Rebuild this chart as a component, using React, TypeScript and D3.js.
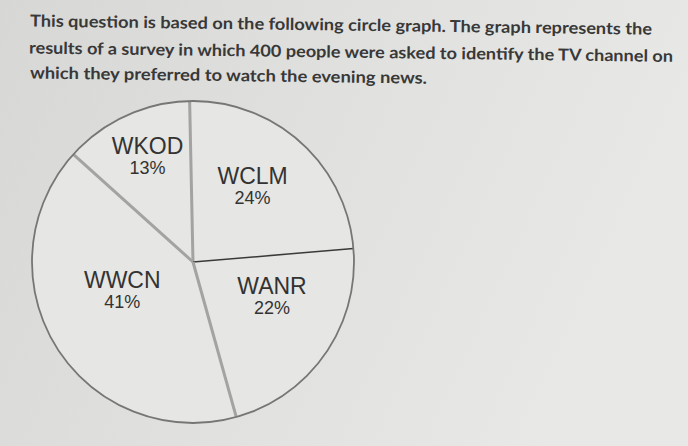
import React from 'react';
import * as d3 from "d3";

// question text, one entry per printed line
const questionLines = [
    "This question is based on the following circle graph. The graph represents the",
    "results of a survey in which 400 people were asked to identify the TV channel on",
    "which they preferred to watch the evening news.",
];

// slices, clockwise starting with the small one at the top left
const channels = ["WKOD", "WCLM", "WANR", "WWCN"];
const shares = [13, 24, 22, 41];

const width = 688;
const height = 446;
const cx = 193;
const cy = 262;
const radius = 161;
const startDeg = -48; // where WKOD begins, picture is hand drawn so this is a best fit

// nudges from the arc centroid to where the printed labels actually sit
const labelNudge: [number, number][] = [[-6, -20], [-4, -5], [1, -20], [10, -22]];
// boundaries before each slice (WWCN|WKOD, WKOD|WCLM, WCLM|WANR, WANR|WWCN)
const edgeStyle = [
    {stroke: "#a3a3a1", width: 3},
    {stroke: "#a3a3a1", width: 3},
    {stroke: "#3a3a3a", width: 1.5},
    {stroke: "#a3a3a1", width: 3},
];
// photo is slightly tilted; left x, left baseline and printed width for each line
const lineBox: [number, number, number][] = [[30, 26.5, 622], [29, 53.5, 644], [30, 78.5, 397]];
const tilt = 0.75;

const App = () => {
    const start = startDeg * Math.PI / 180;
    const pie = d3.pie<number>()
        .sort(null)
        .value(d => d)
        .startAngle(start)
        .endAngle(start + 2 * Math.PI);
    const arcs = pie(shares);

    const arc = d3.arc<d3.PieArcDatum<number>>()
        .innerRadius(0)
        .outerRadius(radius);
    const labelArc = d3.arc<d3.PieArcDatum<number>>()
        .innerRadius(95)
        .outerRadius(95);

    return (
        <div style={{position: "absolute", left: 0, top: 0}}>
            <svg width={width} height={height} style={{display: "block"}}>
                <defs>
                    <linearGradient id="paper" x1="0" y1="0" x2="1" y2="0.3">
                        <stop offset="0" stopColor="#d7d7d5"/>
                        <stop offset="0.5" stopColor="#e0e0de"/>
                        <stop offset="1" stopColor="#e8e8e6"/>
                    </linearGradient>
                </defs>
                <rect width={width} height={height} fill="url(#paper)"/>

                <g fontFamily="Lato, 'Open Sans', sans-serif"
                   fontWeight="bold"
                   fontSize={16.5}
                   fill="#383838">
                    {questionLines.map((t, i) => {
                        const [x, y, w] = lineBox[i];
                        return <text key={i} x={x} y={y}
                                     transform={`rotate(${tilt}, ${x}, ${y})`}
                                     textLength={w} lengthAdjust="spacingAndGlyphs">{t}</text>;
                    })}
                </g>

                <g transform={`translate(${cx},${cy})`}>
                    {arcs.map((d, i) =>
                        <path key={"s" + i} d={arc(d) ?? ""} fill="#e6e6e4" stroke="none"/>
                    )}
                    {arcs.map((d, i) => {
                        const a = d.startAngle;
                        return <line key={"e" + i}
                                     x1={0} y1={0}
                                     x2={radius * Math.sin(a)}
                                     y2={-radius * Math.cos(a)}
                                     stroke={edgeStyle[i].stroke}
                                     strokeWidth={edgeStyle[i].width}/>;
                    })}
                    <circle r={radius} fill="none" stroke="#767676" strokeWidth={1.8}/>

                    {arcs.map((d, i) => {
                        const [lx, ly] = labelArc.centroid(d);
                        const x = lx + labelNudge[i][0];
                        const y = ly + labelNudge[i][1];
                        return (
                            <g key={"l" + i} fontFamily="'Liberation Sans', Arial, sans-serif"
                               textAnchor="middle" fill="#333333">
                                <text x={x} y={y - 2} fontSize={23}>{channels[i]}</text>
                                <text x={x} y={y + 18} fontSize={18}>{shares[i] + "%"}</text>
                            </g>
                        );
                    })}
                </g>
            </svg>
        </div>
    );
};

export default App;
